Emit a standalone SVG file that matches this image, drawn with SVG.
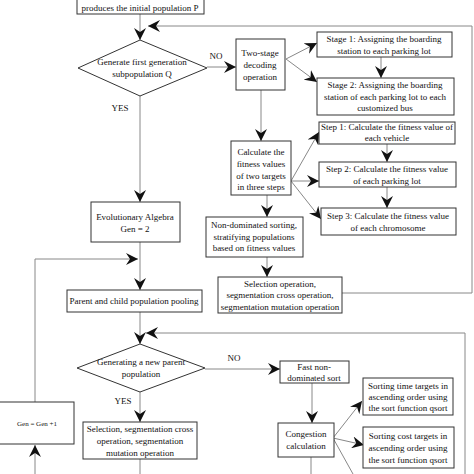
<svg xmlns="http://www.w3.org/2000/svg" width="474" height="474" viewBox="0 0 474 474">
<style>
.b{fill:#fff;stroke:#333;stroke-width:1}
.c{fill:none;stroke:#888;stroke-width:1}
.t{font-family:"Liberation Serif","Times New Roman",serif;font-size:9px;fill:#111;text-anchor:middle}
.s{font-size:7px}
</style>
<defs>
<marker id="a" markerUnits="userSpaceOnUse" markerWidth="14" markerHeight="12" refX="12" refY="6" orient="auto">
<path d="M0,0 L12,6 L0,12 L4,6 z" fill="#111"/>
</marker>
</defs>
<rect width="474" height="474" fill="#fff"/>
<g id="connectors">
<line class="c" x1="140" y1="14" x2="140" y2="40" marker-end="url(#a)"/>
<line class="c" x1="207" y1="67" x2="236" y2="67" marker-end="url(#a)"/>
<line class="c" x1="140" y1="96" x2="140" y2="202" marker-end="url(#a)"/>
<line class="c" x1="286" y1="59" x2="317" y2="43" marker-end="url(#a)"/>
<line class="c" x1="286" y1="59" x2="317" y2="82" marker-end="url(#a)"/>
<line class="c" x1="381" y1="57" x2="381" y2="78" marker-end="url(#a)"/>
<line class="c" x1="261" y1="90" x2="261" y2="141" marker-end="url(#a)"/>
<line class="c" x1="291" y1="181" x2="319" y2="132" marker-end="url(#a)"/>
<line class="c" x1="291" y1="181" x2="319" y2="181" marker-end="url(#a)"/>
<line class="c" x1="291" y1="181" x2="321" y2="219" marker-end="url(#a)"/>
<line class="c" x1="387" y1="144" x2="387" y2="162" marker-end="url(#a)"/>
<line class="c" x1="387" y1="187" x2="387" y2="208" marker-end="url(#a)"/>
<line class="c" x1="267" y1="195" x2="267" y2="217" marker-end="url(#a)"/>
<line class="c" x1="267" y1="257" x2="267" y2="277" marker-end="url(#a)"/>
<polyline class="c" points="342,293 472,293 472,26 148,26" marker-end="url(#a)"/>
<line class="c" x1="140" y1="242" x2="140" y2="290" marker-end="url(#a)"/>
<polyline class="c" points="35,402 35,259 138,259" marker-end="url(#a)"/>
<line class="c" x1="140" y1="312" x2="140" y2="344" marker-end="url(#a)"/>
<polyline class="c" points="465,474 465,333 146,333" marker-end="url(#a)"/>
<line class="c" x1="205" y1="369" x2="280" y2="369" marker-end="url(#a)"/>
<line class="c" x1="140" y1="392" x2="140" y2="422" marker-end="url(#a)"/>
<line class="c" x1="140" y1="459" x2="140" y2="474"/>
<line class="c" x1="312" y1="383" x2="312" y2="423" marker-end="url(#a)"/>
<line class="c" x1="311" y1="457" x2="311" y2="474"/>
<line class="c" x1="333" y1="438" x2="362" y2="401" marker-end="url(#a)"/>
<line class="c" x1="333" y1="438" x2="364" y2="445" marker-end="url(#a)"/>
<line class="c" x1="333" y1="438" x2="353" y2="474"/>
<line class="c" x1="35" y1="474" x2="35" y2="445" marker-end="url(#a)"/>
<text class="t" x="216" y="59">NO</text>
<text class="t" x="120" y="111">YES</text>
<text class="t" x="234" y="361">NO</text>
<text class="t" x="123" y="404">YES</text>
</g>
<g id="init"><rect class="b" x="77" y="-20" width="127" height="34"/><text class="t" x="140" y="11">produces the initial population P</text></g>
<g id="d1"><polygon class="b" points="140,40 207,68 140,96 78,68"/><text class="t" x="142" y="65">Generate first generation</text><text class="t" x="142" y="77">subpopulation Q</text></g>
<g id="twostage"><rect class="b" x="236" y="39" width="49" height="51"/><text class="t" x="260" y="56">Two-stage</text><text class="t" x="260" y="68">decoding</text><text class="t" x="260" y="80">operation</text></g>
<g id="stage1"><rect class="b" x="317" y="32" width="135" height="25"/><text class="t" x="384" y="42">Stage 1: Assigning the boarding</text><text class="t" x="384" y="54">station to each parking lot</text></g>
<g id="stage2"><rect class="b" x="317" y="78" width="137" height="37"/><text class="t" x="385" y="88">Stage 2: Assigning the boarding</text><text class="t" x="385" y="100">station of each parking lot to each</text><text class="t" x="385" y="111">customized bus</text></g>
<g id="step1"><rect class="b" x="319" y="122" width="136" height="22"/><text class="t" x="387" y="130">Step 1: Calculate the fitness value of</text><text class="t" x="387" y="141">each vehicle</text></g>
<g id="calc"><rect class="b" x="231" y="141" width="60" height="54"/><text class="t" x="261" y="155">Calculate the</text><text class="t" x="261" y="167">fitness values</text><text class="t" x="261" y="179">of two targets</text><text class="t" x="261" y="190">in three steps</text></g>
<g id="step2"><rect class="b" x="319" y="162" width="137" height="25"/><text class="t" x="387" y="172">Step 2: Calculate the fitness value</text><text class="t" x="387" y="184">of each parking lot</text></g>
<g id="step3"><rect class="b" x="321" y="208" width="135" height="27"/><text class="t" x="388" y="219">Step 3: Calculate the fitness value</text><text class="t" x="388" y="231">of each chromosome</text></g>
<g id="nds"><rect class="b" x="206" y="217" width="97" height="40"/><text class="t" x="254" y="228">Non-dominated sorting,</text><text class="t" x="254" y="240">stratifying populations</text><text class="t" x="254" y="251">based on fitness values</text></g>
<g id="selop"><rect class="b" x="218" y="277" width="124" height="36"/><text class="t" x="280" y="287">Selection operation,</text><text class="t" x="280" y="298">segmentation cross operation,</text><text class="t" x="280" y="310">segmentation mutation operation</text></g>
<g id="evo"><rect class="b" x="91" y="202" width="89" height="40"/><text class="t" x="135" y="220">Evolutionary Algebra</text><text class="t" x="135" y="232">Gen = 2</text></g>
<g id="pool"><rect class="b" x="67" y="290" width="135" height="22"/><text class="t" x="134" y="304">Parent and child population pooling</text></g>
<g id="d2"><polygon class="b" points="140,344 205,368 140,392 77,368"/><text class="t" x="141" y="365">Generating a new parent</text><text class="t" x="141" y="377">population</text></g>
<g id="gen"><rect class="b" x="-1" y="402" width="75" height="42"/><text class="t s" x="37" y="426">Gen = Gen +1</text></g>
<g id="sel2"><rect class="b" x="83" y="422" width="114" height="37"/><text class="t" x="140" y="432">Selection, segmentation cross</text><text class="t" x="140" y="444">operation, segmentation</text><text class="t" x="140" y="456">mutation operation</text></g>
<g id="fast"><rect class="b" x="280" y="361" width="69" height="22"/><text class="t" x="314" y="370">Fast non-</text><text class="t" x="314" y="381">dominated sort</text></g>
<g id="cong"><rect class="b" x="278" y="423" width="56" height="34"/><text class="t" x="306" y="437">Congestion</text><text class="t" x="306" y="449">calculation</text></g>
<g id="sorttime"><rect class="b" x="363" y="378" width="90" height="37"/><text class="t" x="408" y="389">Sorting time targets in</text><text class="t" x="408" y="400">ascending order using</text><text class="t" x="408" y="411">the sort function qsort</text></g>
<g id="sortcost"><rect class="b" x="363" y="427" width="91" height="41"/><text class="t" x="408" y="439">Sorting cost targets in</text><text class="t" x="408" y="451">ascending order using</text><text class="t" x="408" y="463">the sort function qsort</text></g>
</svg>
